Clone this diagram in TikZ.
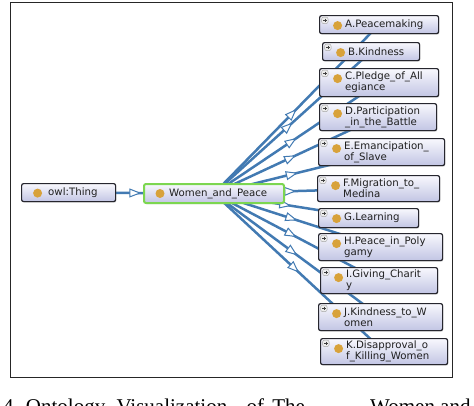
\documentclass[tikz,border=0pt]{standalone}
\usepackage{fontspec}
\newfontfamily\boxfont{DejaVu Sans}
\newfontfamily\capfont{Liberation Serif}
\usetikzlibrary{positioning,shadows,arrows.meta,decorations.markings}
\definecolor{boxtop}{RGB}{248,248,253}
\definecolor{boxbot}{RGB}{194,197,228}
\definecolor{boxline}{RGB}{38,38,46}
\definecolor{rootgreen}{RGB}{124,214,80}
\definecolor{edgeblue}{RGB}{66,122,178}
\definecolor{dotgold}{RGB}{216,162,58}
\pgfdeclarelayer{background}
\pgfsetlayers{background,main}

\begin{document}
\begin{tikzpicture}[
    x=1pt, y=-1pt,
    cls/.style={
        rectangle, rounded corners=2pt, draw=boxline, line width=1.2pt,
        top color=boxtop, bottom color=boxbot,
        anchor=north west, inner sep=0pt,
        drop shadow={shadow xshift=0.8pt, shadow yshift=-1pt, opacity=.35},
        path picture={
            \fill[dotgold] ([xshift=16pt,yshift=-9.5pt]path picture bounding box.north west) circle (4.5pt);
        }
    },
    sub/.style={
        cls,
        path picture={
            \fill[dotgold] ([xshift=18pt,yshift=-10pt]path picture bounding box.north west) circle (4.5pt);
            \draw[gray!70, fill=gray!15, line width=.4pt]
                ([xshift=2pt,yshift=-1.5pt]path picture bounding box.north west) rectangle +(6.5pt,-6.5pt);
            \draw[black!75, line width=.5pt]
                ([xshift=3.5pt,yshift=-4.75pt]path picture bounding box.north west) -- +(3.5pt,0pt)
                ([xshift=5.25pt,yshift=-3pt]path picture bounding box.north west) -- +(0pt,-3.5pt);
        }
    },
    root/.style={cls, draw=rootgreen, line width=2pt},
    lbl/.style={font=\boxfont\fontsize{10.2}{11}\selectfont, text=black!88, align=left, inner sep=0pt},
    isa/.style={
        draw=edgeblue, line width=2.5pt,
        postaction={decorate},
        decoration={markings, mark=at position 0.5 with
            {\arrow[edgeblue, line width=1pt]{Triangle[fill=white, length=12pt, width=9pt]}}}
    },
    frame/.style={draw=black!85, line width=1.8pt},
    caption/.style={font=\capfont\fontsize{21}{24}\selectfont, anchor=base west, inner sep=0pt}
]
\useasboundingbox (0,0) rectangle (474,405);

% Frame
\draw[frame] (10.5,2.5) rectangle (452.5,377.5);

% Root classes
\node[cls, minimum width=94, minimum height=18] (thing) at (21,183) {};
\node[lbl, right=27pt of thing.west] (tthing) {owl:Thing};

\node[root, minimum width=140, minimum height=19] (wp) at (143,183) {};
\node[lbl, right=26pt of wp.west] (twp) {Women\_and\_Peace};

% Subclasses
\node[sub, minimum width=119, minimum height=18] (a) at (319,15) {};
\node[lbl, right=26pt of a.west] (ta) {A.Peacemaking};

\node[sub, minimum width=97, minimum height=18] (b) at (322,42) {};
\node[lbl, right=26pt of b.west] (tb) {B.Kindness};

\node[sub, minimum width=119, minimum height=28] (c) at (319,68) {};
\node[lbl, right=26pt of c.west] (tc) {C.Pledge\_of\_All\\egiance};

\node[sub, minimum width=117, minimum height=27] (d) at (319,103) {};
\node[lbl, right=26pt of d.west] (td) {D.Participation\\\_in\_the\_Battle};

\node[sub, minimum width=126, minimum height=27] (e) at (318,138) {};
\node[lbl, right=26pt of e.west] (te) {E.Emancipation\_\\of\_Slave};

\node[sub, minimum width=122, minimum height=26] (f) at (317,175) {};
\node[lbl, right=26pt of f.west] (tf) {F.Migration\_to\_\\Medina};

\node[sub, minimum width=100, minimum height=19] (g) at (318,208) {};
\node[lbl, right=26pt of g.west] (tg) {G.Learning};

\node[sub, minimum width=124, minimum height=27] (h) at (318,233) {};
\node[lbl, right=26pt of h.west] (th) {H.Peace\_in\_Poly\\gamy};

\node[sub, minimum width=117, minimum height=26] (i) at (320,267) {};
\node[lbl, right=26pt of i.west] (ti) {I.Giving\_Charit\\y};

\node[sub, minimum width=124, minimum height=27] (j) at (318,303) {};
\node[lbl, right=26pt of j.west] (tj) {J.Kindness\_to\_W\\omen};

\node[sub, minimum width=127, minimum height=26] (k) at (320,338) {};
\node[lbl, right=26pt of k.west] (tk) {K.Disapproval\_o\\f\_Killing\_Women};

% Arrows
\begin{pgfonlayer}{background}
\draw[isa] (thing.center) -- (wp.center);
\draw[isa] (wp.center) -- (a.center);
\draw[isa] (wp.center) -- (b.center);
\draw[isa] (wp.center) -- (c.center);
\draw[isa] (wp.center) -- (d.center);
\draw[isa] (wp.center) -- (e.center);
\draw[isa] (wp.center) -- (f.center);
\draw[isa] (wp.center) -- (g.center);
\draw[isa] (wp.center) -- (h.center);
\draw[isa] (wp.center) -- (i.center);
\draw[isa] (wp.center) -- (j.center);
\draw[isa] (wp.center) -- (k.center);
\end{pgfonlayer}

% Caption, cut off at the bottom
\begin{scope}
\clip (0,0) rectangle (474,405);
\node[caption] (capa) at (3,413) {4. Ontology\hspace{6pt} Visualization\hspace{14pt} of\hspace{3pt} The};
\node[caption] (capb) at (370,413) {Women and};
\end{scope}

\end{tikzpicture}
\end{document}
